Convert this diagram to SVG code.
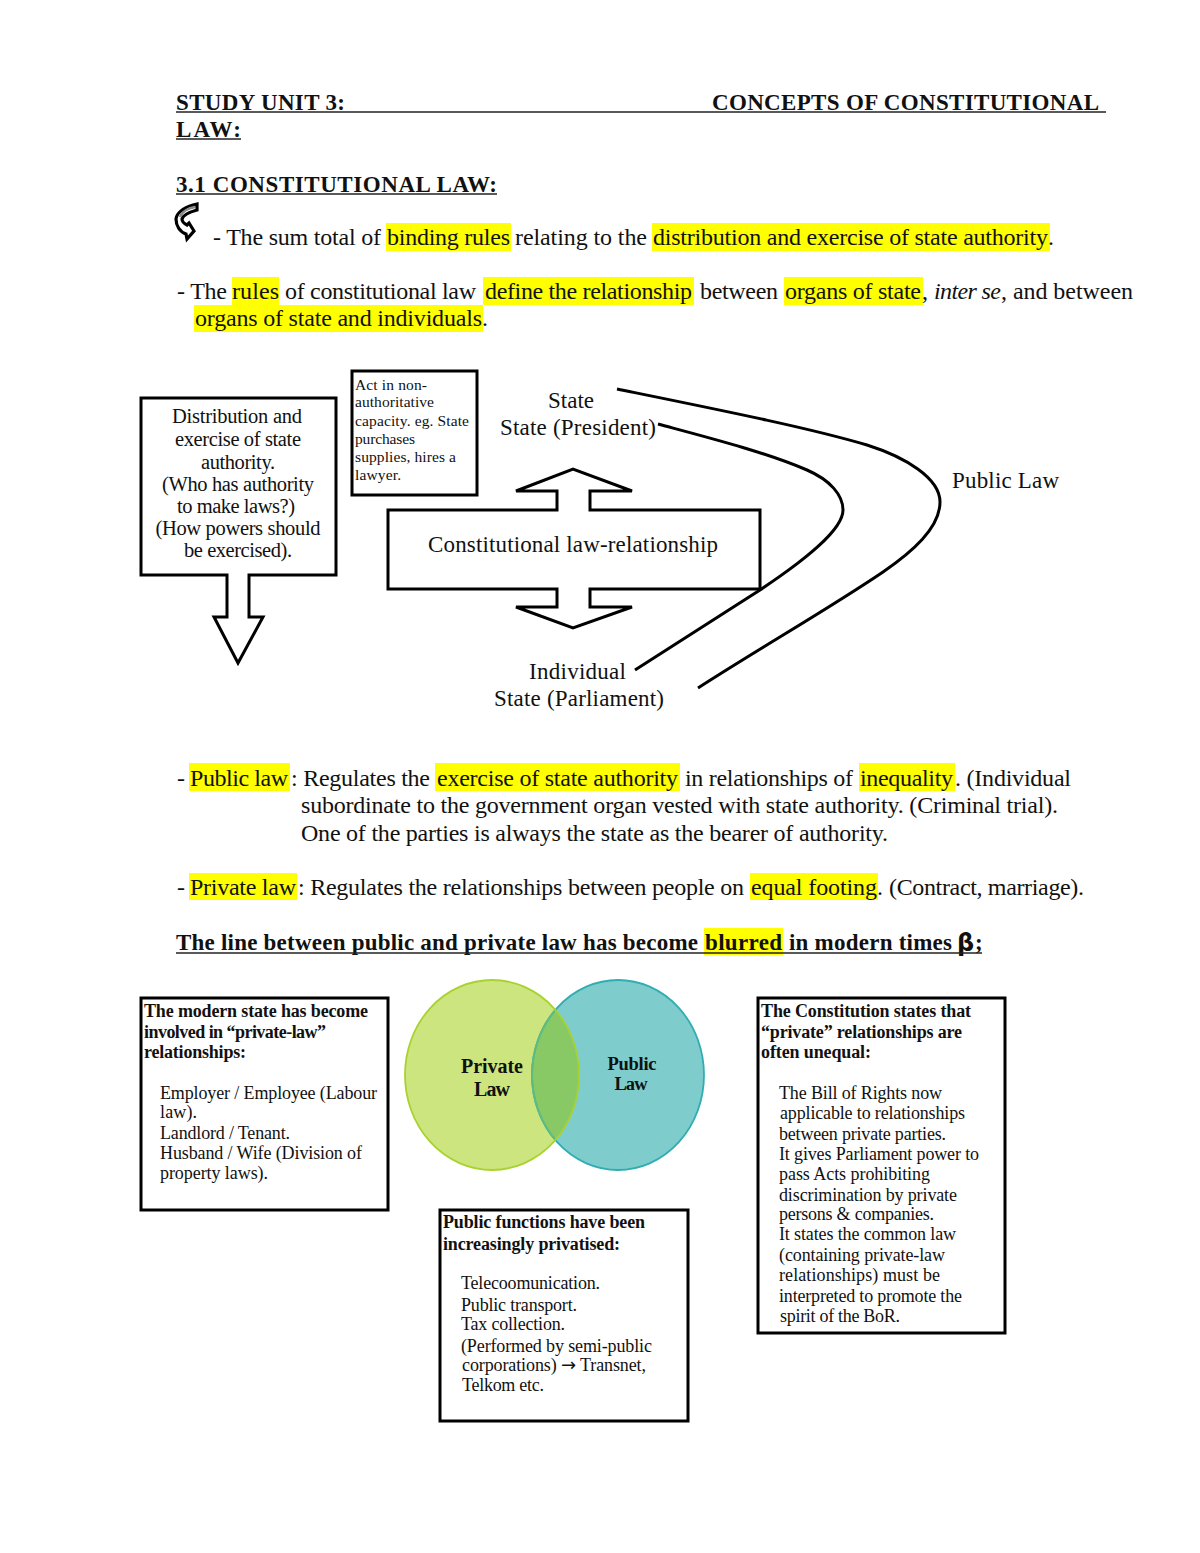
<svg xmlns="http://www.w3.org/2000/svg" width="1200" height="1553" viewBox="0 0 1200 1553">
<style>
text{font-family:"Liberation Serif","Times New Roman",serif;fill:#111}
.b{font-size:24px}
.h{font-weight:bold;font-size:23px}
.h2{font-weight:bold;font-size:24px}
.d{font-size:23px}
.c{font-size:20.5px;text-anchor:middle}
.s{font-size:15.5px}
.bh{font-size:18px;font-weight:bold}
.bt{font-size:18px}
.v{font-weight:bold;font-size:20px;text-anchor:middle}
.v2{font-weight:bold;font-size:18.5px;text-anchor:middle}
.hl{fill:#ffff00}
.ul{stroke:#222;stroke-width:1.6;fill:none}
.box{fill:#fff;stroke:#000;stroke-width:3}
.cv{fill:none;stroke:#000;stroke-width:3}
</style>
<defs>
<clipPath id="cp"><ellipse cx="492" cy="1075" rx="87" ry="95"/></clipPath>
</defs>
<rect width="1200" height="1553" fill="#fff"/>

<g id="heading">
<text class="h" x="176" y="110" textLength="169">STUDY UNIT 3:</text>
<text class="h" x="712" y="110" textLength="387">CONCEPTS OF CONSTITUTIONAL</text>
<line class="ul" x1="176" y1="112" x2="1106" y2="112"/>
<text class="h" x="176" y="137" textLength="65">LAW:</text>
<line class="ul" x1="176" y1="139" x2="241" y2="139"/>
<text class="h" x="176" y="192" textLength="321">3.1 CONSTITUTIONAL LAW:</text>
<line class="ul" x1="176" y1="194" x2="497" y2="194"/>
</g>

<g id="icon">
<path d="M197 204 L197 210 C190 212 183 215 182 219 C182 222 185 224 187 225 L189 223 L194 231 L187 239 L186 234 C180 232 176 226 176 219 C177 211 187 206 197 204 Z" fill="#fff" stroke="#000" stroke-width="3.2" stroke-linejoin="miter"/>
<path d="M195 207 C188 208 182 212 180 217" fill="none" stroke="#888" stroke-width="2.6"/>
</g>

<g id="intro">
<rect class="hl" x="386" y="223" width="125" height="28"/>
<rect class="hl" x="652" y="223" width="398" height="28"/>
<rect class="hl" x="232" y="277" width="47" height="28"/>
<rect class="hl" x="483" y="277" width="211" height="28"/>
<rect class="hl" x="784" y="277" width="139" height="28"/>
<rect class="hl" x="194" y="305" width="289" height="27"/>
<text class="b" x="213" y="245" textLength="168">- The sum total of</text>
<text class="b" x="387" y="245" textLength="123">binding rules</text>
<text class="b" x="515" y="245" textLength="132">relating to the</text>
<text class="b" x="653" y="245" textLength="395">distribution and exercise of state authority</text>
<text class="b" x="1048" y="245">.</text>
<text class="b" x="177" y="299" textLength="50">- The</text>
<text class="b" x="232" y="299" textLength="47">rules</text>
<text class="b" x="285" y="299" textLength="191">of constitutional law</text>
<text class="b" x="485" y="299" textLength="207">define the relationship</text>
<text class="b" x="700" y="299" textLength="78">between</text>
<text class="b" x="785" y="299" textLength="136">organs of state</text>
<text class="b" x="922" y="299">,</text>
<text class="b" x="934" y="299" textLength="67" font-style="italic">inter se</text>
<text class="b" x="1001" y="299" textLength="132">, and between</text>
<text class="b" x="195" y="326" textLength="287">organs of state and individuals</text>
<text class="b" x="482" y="326">.</text>
</g>

<g id="connectors">
<path class="cv" d="M617 389 C720 410 810 428 867 445 C905 457 940 478 940 502 C940 528 912 552 883 572 C830 608 760 648 698 688"/>
<path class="cv" d="M658 424 C710 438 765 452 807 470 C830 480 843 495 843 510 C843 530 805 560 760 590 L635 670"/>
</g>

<g id="node-distribution">
<path class="box" d="M141 398 H336 V575 H249 V617 H263 L238 663 L214 617 H227 V575 H141 Z"/>
<text class="c" x="237" y="423" textLength="130">Distribution and</text>
<text class="c" x="238" y="446" textLength="126">exercise of state</text>
<text class="c" x="238" y="469" textLength="74">authority.</text>
<text class="c" x="238" y="491" textLength="152">(Who has authority</text>
<text class="c" x="236" y="513" textLength="118">to make laws?)</text>
<text class="c" x="238" y="535" textLength="165">(How powers should</text>
<text class="c" x="238" y="557" textLength="108">be exercised).</text>
</g>

<g id="node-act">
<rect class="box" x="352" y="371" width="125" height="124"/>
<text class="s" x="355" y="390" textLength="72">Act in non-</text>
<text class="s" x="355" y="407" textLength="79">authoritative</text>
<text class="s" x="355" y="426" textLength="114">capacity. eg. State</text>
<text class="s" x="355" y="444" textLength="60">purchases</text>
<text class="s" x="355" y="462" textLength="101">supplies, hires a</text>
<text class="s" x="355" y="480" textLength="46">lawyer.</text>
</g>

<g id="node-constitutional">
<path class="box" d="M388 510 H557 V491 H516 L573 469 L632 491 H590 V510 H760 V589 H590 V607 H632 L573 628 L516 607 H557 V589 H388 Z"/>
<text class="d" x="428" y="552" textLength="290">Constitutional law-relationship</text>
</g>

<g id="labels">
<text class="d" x="548" y="408" textLength="46">State</text>
<text class="d" x="500" y="435" textLength="156">State (President)</text>
<text class="d" x="529" y="679" textLength="97">Individual</text>
<text class="d" x="494" y="706" textLength="170">State (Parliament)</text>
<text class="d" x="952" y="488" textLength="107">Public Law</text>
</g>

<g id="laws">
<rect class="hl" x="189" y="763" width="101" height="28"/>
<rect class="hl" x="435" y="763" width="245" height="28"/>
<rect class="hl" x="859" y="763" width="96" height="28"/>
<rect class="hl" x="189" y="873" width="108" height="27"/>
<rect class="hl" x="750" y="873" width="128" height="27"/>
<text class="b" x="177" y="786">-</text>
<text class="b" x="190" y="786" textLength="98">Public law</text>
<text class="b" x="291" y="786" textLength="139">: Regulates the</text>
<text class="b" x="437" y="786" textLength="241">exercise of state authority</text>
<text class="b" x="685" y="786" textLength="168">in relationships of</text>
<text class="b" x="860" y="786" textLength="93">inequality</text>
<text class="b" x="955" y="786" textLength="116">. (Individual</text>
<text class="b" x="301" y="813" textLength="757">subordinate to the government organ vested with state authority. (Criminal trial).</text>
<text class="b" x="301" y="841" textLength="587">One of the parties is always the state as the bearer of authority.</text>
<text class="b" x="177" y="895">-</text>
<text class="b" x="190" y="895" textLength="106">Private law</text>
<text class="b" x="298" y="895" textLength="446">: Regulates the relationships between people on</text>
<text class="b" x="751" y="895" textLength="126">equal footing</text>
<text class="b" x="877" y="895">.</text>
<text class="b" x="889" y="895" textLength="195">(Contract, marriage).</text>
</g>

<g id="blurred-heading">
<rect class="hl" x="704" y="928" width="79" height="27"/>
<text class="h" x="176" y="950" textLength="522">The line between public and private law has become</text>
<text class="h" x="705" y="950" textLength="77">blurred</text>
<text class="h" x="789" y="950" textLength="163">in modern times</text>
<text class="h2" x="957" y="951" textLength="18" style="font-family:'DejaVu Sans',sans-serif">β</text>
<text class="h" x="975" y="950">;</text>
<line class="ul" x1="176" y1="953" x2="982" y2="953"/>
</g>

<g id="node-modern-state">
<rect class="box" x="141" y="998" width="247" height="212"/>
<text class="bh" x="144" y="1017" textLength="224">The modern state has become</text>
<text class="bh" x="144" y="1038" textLength="182">involved in “private-law”</text>
<text class="bh" x="144" y="1058" textLength="102">relationships:</text>
<text class="bt" x="160" y="1099" textLength="217">Employer / Employee (Labour</text>
<text class="bt" x="160" y="1118" textLength="37">law).</text>
<text class="bt" x="160" y="1139" textLength="130">Landlord / Tenant.</text>
<text class="bt" x="160" y="1159" textLength="202">Husband / Wife (Division of</text>
<text class="bt" x="160" y="1179" textLength="108">property laws).</text>
</g>

<g id="node-venn">
<ellipse cx="492" cy="1075" rx="87" ry="95" fill="#cde57e"/>
<ellipse cx="618" cy="1075" rx="86" ry="95" fill="#7fcccc"/>
<ellipse cx="618" cy="1075" rx="86" ry="95" fill="#88c966" clip-path="url(#cp)"/>
<ellipse cx="618" cy="1075" rx="86" ry="95" fill="none" stroke="#2fadb2" stroke-width="1.8"/>
<ellipse cx="618" cy="1075" rx="86" ry="95" fill="none" stroke="#5fbb80" stroke-width="2" clip-path="url(#cp)"/>
<ellipse cx="492" cy="1075" rx="87" ry="95" fill="none" stroke="#a8d22e" stroke-width="1.8"/>
<text class="v" x="492" y="1073" textLength="62">Private</text>
<text class="v" x="492" y="1096" textLength="36">Law</text>
<text class="v2" x="632" y="1070" textLength="49">Public</text>
<text class="v2" x="631" y="1090" textLength="33">Law</text>
</g>

<g id="node-public-functions">
<rect class="box" x="440" y="1210" width="248" height="211"/>
<text class="bh" x="443" y="1228" textLength="202">Public functions have been</text>
<text class="bh" x="443" y="1250" textLength="177">increasingly privatised:</text>
<text class="bt" x="461" y="1289" textLength="139">Telecoomunication.</text>
<text class="bt" x="461" y="1311" textLength="116">Public transport.</text>
<text class="bt" x="461" y="1330" textLength="104">Tax collection.</text>
<text class="bt" x="461" y="1352" textLength="191">(Performed by semi-public</text>
<text class="bt" x="462" y="1371" textLength="184">corporations) <tspan style="font-family:'DejaVu Sans',sans-serif">→</tspan> Transnet,</text>
<text class="bt" x="462" y="1391" textLength="82">Telkom etc.</text>
</g>

<g id="node-constitution">
<rect class="box" x="758" y="998" width="247" height="335"/>
<text class="bh" x="761" y="1017" textLength="210">The Constitution states that</text>
<text class="bh" x="761" y="1038" textLength="201">“private” relationships are</text>
<text class="bh" x="761" y="1058" textLength="110">often unequal:</text>
<text class="bt" x="779" y="1099" textLength="163">The Bill of Rights now</text>
<text class="bt" x="780" y="1119" textLength="185">applicable to relationships</text>
<text class="bt" x="779" y="1140" textLength="167">between private parties.</text>
<text class="bt" x="779" y="1160" textLength="200">It gives Parliament power to</text>
<text class="bt" x="779" y="1180" textLength="151">pass Acts prohibiting</text>
<text class="bt" x="779" y="1201" textLength="178">discrimination by private</text>
<text class="bt" x="779" y="1220" textLength="155">persons &amp; companies.</text>
<text class="bt" x="779" y="1240" textLength="177">It states the common law</text>
<text class="bt" x="779" y="1261" textLength="166">(containing private-law</text>
<text class="bt" x="779" y="1281" textLength="161">relationships)  must be</text>
<text class="bt" x="779" y="1302" textLength="183">interpreted to promote the</text>
<text class="bt" x="780" y="1322" textLength="120">spirit of the BoR.</text>
</g>
</svg>
